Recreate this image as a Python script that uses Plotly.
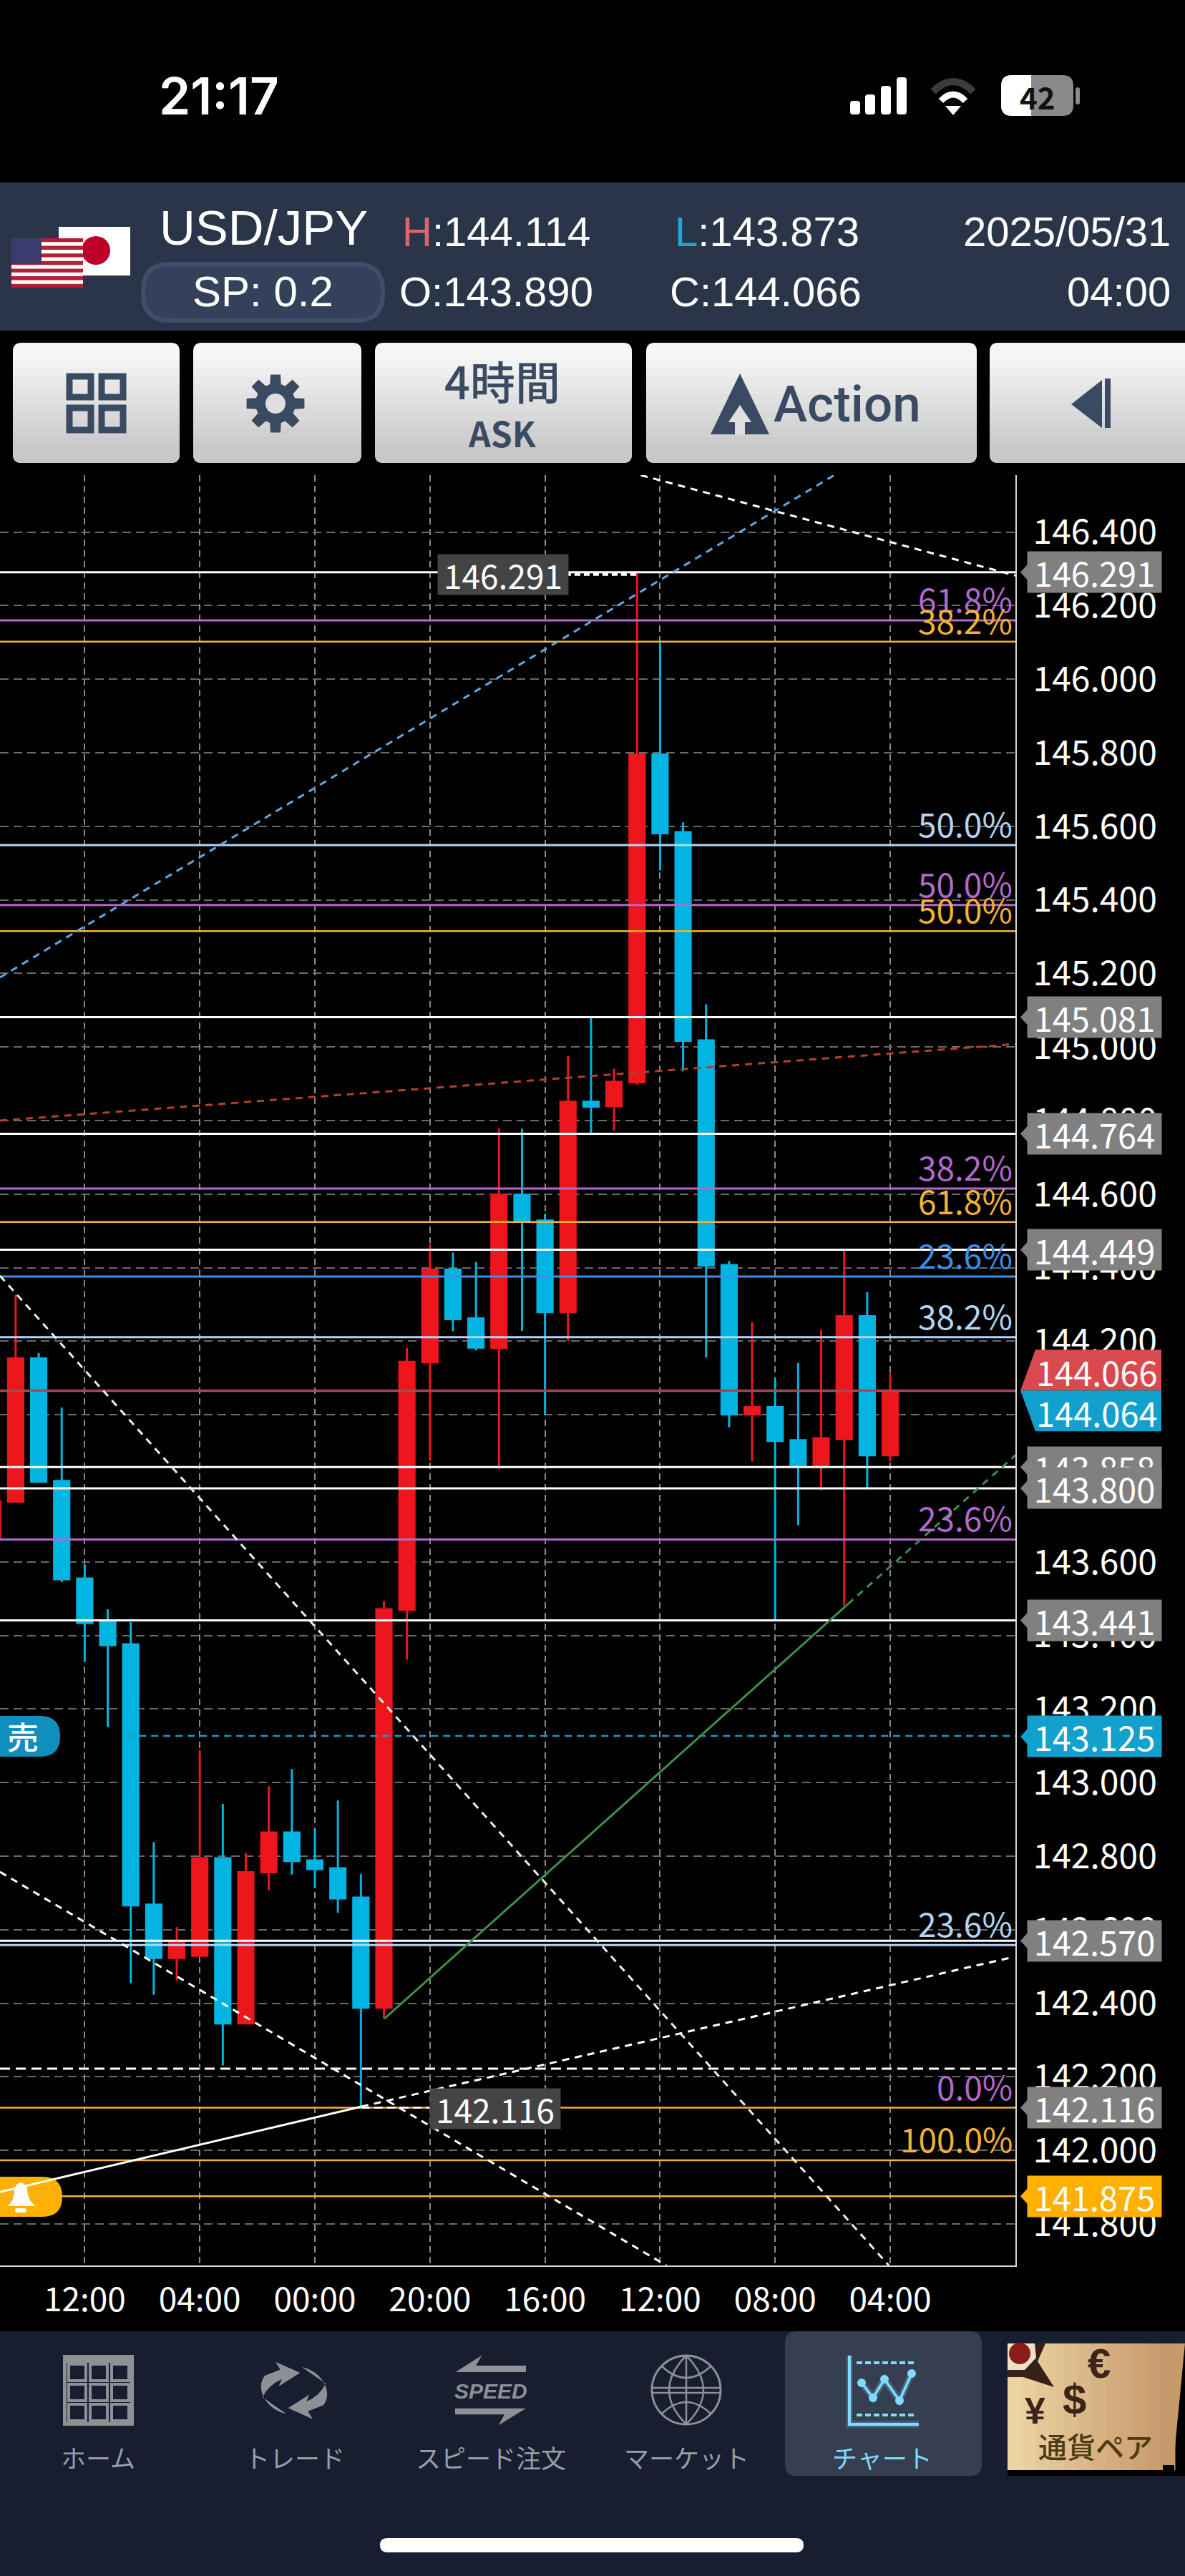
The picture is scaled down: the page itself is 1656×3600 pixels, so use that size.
import math
import plotly.graph_objects as go

W, H = 1656, 3600
FONT = "Noto Sans CJK JP"
ARIAL = "Liberation Sans"

# candles, oldest first (4h USD/JPY)
idx = list(range(-1, 39))
opens = [143.664, 143.764, 144.153, 143.820, 143.555, 143.436, 143.376, 142.668, 142.523, 142.529,
         142.794, 142.345, 142.756, 142.864, 142.788, 142.767, 142.687, 142.388, 143.470, 144.143,
         144.395, 144.262, 144.182, 144.598, 144.528, 144.279, 144.851, 144.839, 144.904, 145.795,
         145.584, 145.018, 144.407, 144.001, 144.021, 143.931, 143.860, 143.934, 144.268, 143.890]
highs = [143.800, 144.326, 144.168, 144.020, 143.593, 143.471, 143.436, 142.838, 142.607, 143.087,
         142.942, 142.808, 142.990, 143.037, 142.875, 142.951, 142.751, 143.493, 144.182, 144.463,
         144.441, 144.416, 144.779, 144.778, 144.546, 144.975, 145.079, 144.941, 146.291, 146.099,
         145.611, 145.116, 144.418, 144.252, 144.097, 144.141, 144.231, 144.446, 144.333, 144.114]
lows = [143.600, 143.762, 143.817, 143.545, 143.330, 143.151, 142.454, 142.423, 142.462, 142.527,
        142.231, 142.343, 142.707, 142.750, 142.713, 142.646, 142.116, 142.358, 143.334, 143.875,
        144.227, 144.175, 143.853, 144.228, 143.999, 144.201, 144.761, 144.773, 144.898, 145.480,
        144.934, 144.156, 143.966, 143.873, 143.441, 143.700, 143.795, 143.482, 143.797, 143.873]
closes = [143.765, 144.153, 143.818, 143.553, 143.434, 143.374, 142.666, 142.523, 142.568, 142.794,
          142.345, 142.756, 142.864, 142.787, 142.765, 142.685, 142.388, 143.471, 144.144, 144.395,
          144.260, 144.183, 144.598, 144.526, 144.279, 144.851, 144.838, 144.905, 145.795, 145.581,
          145.017, 144.406, 144.001, 144.021, 143.929, 143.860, 143.936, 144.268, 143.890, 144.066]

x_ticks = [3, 8, 13, 18, 23, 28, 33, 38]
x_labels = ["12:00", "04:00", "00:00", "20:00", "16:00", "12:00", "08:00", "04:00"]
y_ticks = [141.8, 142.0, 142.2, 142.4, 142.6, 142.8, 143.0, 143.2, 143.4, 143.6, 143.8, 144.0,
           144.2, 144.4, 144.6, 144.8, 145.0, 145.2, 145.4, 145.6, 145.8, 146.0, 146.2, 146.4]

# horizontal levels
white_front = [146.291, 145.081, 144.764, 144.449, 143.441, 142.570]
white_back = [143.858, 143.800]
purple_levels = [146.160, 145.386, 144.615, 143.661]
orange_levels = [146.102, 145.315, 144.524, 142.116, 141.973, 141.875]
pale_levels = [145.549, 144.211, 142.558]
blue_levels = [144.376]

# fibonacci captions: text, price, colour
PURPLE, ORANGE, PALE, BLUE = "#b368cc", "#f2b233", "#b3d4f2", "#3a8fe6"
fib_text = ["61.8%", "38.2%", "50.0%", "50.0%", "50.0%", "38.2%", "61.8%", "23.6%", "38.2%", "23.6%", "23.6%", "0.0%", "100.0%"]
fib_price = [146.160, 146.102, 145.549, 145.386, 145.315, 144.615, 144.524, 144.376, 144.211, 143.661, 142.558, 142.116, 141.973]
fib_color = [PURPLE, ORANGE, PALE, PURPLE, ORANGE, PURPLE, ORANGE, BLUE, PALE, PURPLE, PALE, PURPLE, ORANGE]

# price tags on the axis
tag_price = [146.291, 145.081, 144.764, 144.449, 143.858, 143.800, 143.441, 143.125, 142.570, 142.116, 141.875]
tag_color = ["#808080"] * 7 + ["#12a0cc", "#808080", "#808080", "#ffb000"]

# trend lines (candle index, price)
line_a = ([27.16, 43.44], [146.555, 146.282])
line_blue = ([-0.681, 35.57], [145.189, 146.555])
line_red = ([-0.681, 43.44], [144.800, 145.008])
line_d1 = ([-0.681, 37.94], [144.378, 141.687])
line_d2 = ([-0.681, 28.27], [142.757, 141.687])
line_bell = ([-0.681, 15.02], [141.887, 142.119])
line_bell2 = ([15.02, 43.23], [142.119, 142.524])
line_green = ([16.02, 36.16], [142.358, 143.485])
line_green2 = ([36.16, 43.44], [143.485, 143.890])

X0, X1 = -0.681, 43.44
Y_TOP, Y_BOT = 146.555, 141.687
PLOT_R, PLOT_T, PLOT_B = 1419, 664, 3166


def ypx(price):
    return PLOT_T + (Y_TOP - price) * (PLOT_B - PLOT_T) / (Y_TOP - Y_BOT)


def P(x, y):
    return f"{x / W:.6f},{1 - y / H:.6f}"


def poly(pts, close=True):
    s = "M" + " L".join(P(x, y) for x, y in pts)
    return s + (" Z" if close else "")


def rr(x0, y0, x1, y1, r):
    return (f"M{P(x0 + r, y0)} L{P(x1 - r, y0)} Q{P(x1, y0)} {P(x1, y0 + r)} L{P(x1, y1 - r)} "
            f"Q{P(x1, y1)} {P(x1 - r, y1)} L{P(x0 + r, y1)} Q{P(x0, y1)} {P(x0, y1 - r)} "
            f"L{P(x0, y0 + r)} Q{P(x0, y0)} {P(x0 + r, y0)} Z")


shapes = []
notes = []


def fill(path, color, layer="above"):
    shapes.append(dict(type="path", path=path, xref="paper", yref="paper", fillcolor=color,
                       line=dict(width=0), layer=layer))


def stroke(path, color, width, layer="above"):
    shapes.append(dict(type="path", path=path, xref="paper", yref="paper",
                       line=dict(color=color, width=width), layer=layer))


def box(x0, y0, x1, y1, color):
    fill(poly([(x0, y0), (x1, y0), (x1, y1), (x0, y1)]), color)


def circle(cx, cy, r, color, line=None, lw=0):
    shapes.append(dict(type="circle", xref="paper", yref="paper", x0=(cx - r) / W, x1=(cx + r) / W,
                       y0=1 - (cy + r) / H, y1=1 - (cy - r) / H, fillcolor=color,
                       line=dict(color=line, width=lw) if line else dict(width=0)))


def text(x, y, s, size, color="white", anchor="center", family=FONT, weight=None):
    notes.append(dict(x=x / W, y=1 - y / H, xref="paper", yref="paper", text=s, showarrow=False,
                      xanchor=anchor, yanchor="middle",
                      font=dict(size=size, color=color, family=family, weight=weight)))


def lerp(a, b, t):
    return "#" + "".join(f"{round(a[i] + (b[i] - a[i]) * t):02x}" for i in range(3))


# status bar
text(306, 134, "21:17", 71, family="Inter", weight=600)
for bx, top in zip([1188, 1209, 1231, 1253], [141, 132, 120, 108]):
    fill(rr(bx, top, bx + 14, 160, 4), "white")
stroke(f"M{P(1304, 128)} Q{P(1332, 100)} {P(1360, 128)}", "#3c3c3c", 10)
stroke(f"M{P(1315, 141)} Q{P(1332, 123)} {P(1349, 141)}", "white", 9)
fill(poly([(1321, 148), (1343, 148), (1332, 161)]), "white")
fill(rr(1399, 105, 1500, 162, 15), "#8a8a8a")
fill(rr(1399, 105, 1455, 162, 15), "white")
box(1441, 105, 1455, 162, "#8a8a8a")
box(1428, 105, 1441, 162, "white")
fill(rr(1503, 122, 1509, 146, 3), "#8a8a8a")
text(1450, 134, "42", 42, "#111111", weight=700)

# header band
box(0, 255, W, 462, "#2b3549")
box(82, 317, 182, 385, "white")
circle(134, 350, 20, "#bc0029")
box(16, 333, 116, 402, "white")
for k in range(7):
    sy = 333 + k * 69 / 6.5
    box(16, sy, 116, sy + 5.3, "#b22234")
box(16, 333, 58, 369, "#3c3b6e")
text(368, 318, "USD/JPY", 69, family=ARIAL)
fill(rr(197, 366, 538, 451, 40), "#3f4e69")
fill(rr(203, 372, 532, 445, 35), "#33415a")
text(367, 408, "SP: 0.2", 60, family=ARIAL)
text(560, 323, '<span style="color:#d9666b">H</span>:144.114', 58, anchor="left", family=ARIAL)
text(941, 323, '<span style="color:#1fa8d8">L</span>:143.873', 58, anchor="left", family=ARIAL)
text(556, 408, "O:143.890", 58, anchor="left", family=ARIAL)
text(934, 408, "C:144.066", 58, anchor="left", family=ARIAL)
text(1638, 323, "2025/05/31", 58, anchor="right", family=ARIAL)
text(1638, 408, "04:00", 58, anchor="right", family=ARIAL)

# tool buttons
ICON = "#3a4a63"
for bx0, bx1 in [(18, 251), (270, 505), (524, 883), (903, 1365), (1383, 1670)]:
    fill(rr(bx0, 479, bx1, 647, 12), "#f6f6f6")
    fill(rr(bx0, 563, bx1, 647, 12), "#c8c8c8")
    for k in range(12):
        t = k / 11
        sy = 491 + k * 12
        box(bx0, sy, bx1, sy + 12.5, lerp((246, 246, 246), (200, 200, 200), t))
for gx in (93, 138):
    for gy0, gy1 in ((522, 559), (566, 605)):
        stroke(poly([(gx + 4, gy0 + 4), (gx + 34, gy0 + 4), (gx + 34, gy1 - 4), (gx + 4, gy1 - 4)]), ICON, 9)
gear = []
for k in range(8):
    a = k * math.pi / 4
    for da, rad in ((-0.28, 28), (-0.17, 41), (0.17, 41), (0.28, 28)):
        gear.append((385 + rad * math.cos(a + da), 564 + rad * math.sin(a + da)))
fill(poly(gear), ICON)
circle(385, 564, 14, "#dedede")
text(702, 531, "4時間", 63, ICON, weight=500)
text(702, 604, "ASK", 48, ICON, weight=700)
fill(poly([(1034, 522), (1075, 607), (993, 607)]), ICON)
fill(poly([(1034, 566), (1050, 590), (1041, 590), (1041, 607), (1027, 607), (1027, 590), (1018, 590)]), "#e0e0e0")
text(1184, 564, "Action", 71, ICON, family="Roboto", weight=500)
fill(poly([(1540, 531), (1497, 565), (1540, 598)]), ICON)
box(1544, 529, 1552, 598, ICON)

# pills on the left edge of the chart
fill(rr(-40, 2398, 84, 2455, 28), "#0f8fbb", layer="below")
text(32, 2426, "売", 44, weight=500)
fill(rr(-40, 3042, 87, 3098, 28), "#ffb000", layer="below")
fill(f"M{P(10, 3083)} Q{P(21, 3075)} {P(20, 3058)} Q{P(29, 3042)} {P(38, 3058)} Q{P(38, 3075)} {P(50, 3083)} Z", "white")
fill(rr(21, 3086, 37, 3092, 3), "white")

# axis price tags
for price, color in zip(tag_price, tag_color):
    y = ypx(price)
    fill(poly([(1436, y - 11), (1426, y), (1436, y + 11)]), color)
    notes.append(dict(x=1529.5 / W, y=price, xref="paper", yref="y", text=f"{price:.3f}", showarrow=False,
                      width=187, height=57, bgcolor=color, borderpad=0, align="center",
                      xanchor="center", yanchor="middle", font=dict(size=47, color="white", family=FONT)))
ask_y = ypx(144.066)
fill(poly([(1426, ask_y), (1447, ask_y - 57), (1623, ask_y - 57), (1623, ask_y)]), "#d94a4f")
fill(poly([(1426, ask_y), (1623, ask_y), (1623, ask_y + 57), (1447, ask_y + 57)]), "#12a0cc")
text(1533, ask_y - 27, "144.066", 47)
text(1533, ask_y + 30, "144.064", 47)

# fibonacci captions
for s, price, color in zip(fib_text, fib_price, fib_color):
    notes.append(dict(x=1417 / W, y=price, xref="paper", yref="y", text=s, showarrow=False, xanchor="right",
                      yanchor="middle", yshift=31, font=dict(size=46, color=color, family=FONT)))

# high / low labels inside the chart
for label, cx, y in (("146.291", 703, 803), ("142.116", 692, 2947)):
    notes.append(dict(x=cx / W, y=1 - y / H, xref="paper", yref="paper", text=label, showarrow=False,
                      width=180, height=54, bgcolor="#444444", xanchor="center", yanchor="middle",
                      font=dict(size=46, color="white", family=FONT)))

# bottom navigation
box(0, 3258, W, H, "#161e30")
fill(rr(1097, 3258, 1372, 3460, 16), "#363f50")
GREY = "#8f9096"
LIGHT = "#7fdcff"
for cx, s, col in [(137, "ホーム", "#9a9da6"), (412, "トレード", "#9a9da6"), (686, "スピード注文", "#9a9da6"),
                   (959, "マーケット", "#9a9da6"), (1233, "チャート", LIGHT)]:
    text(cx, 3433, s, 35, col)

box(88, 3291, 187, 3390, GREY)
box(93, 3302, 182, 3385, "#161e30")
for wx in (96, 126, 156):
    for wy0, wy1 in ((3304, 3327), (3332, 3355), (3360, 3383)):
        stroke(poly([(wx, wy0), (wx + 24, wy0), (wx + 24, wy1), (wx, wy1)]), GREY, 4)

# trade icon: one arrow and the same arrow turned half way
arrow = [(240, 310), (150, 290), (110, 200), (150, 150), (215, 125), (195, 92), (298, 138), (208, 195), (222, 165),
         (170, 185), (140, 240)]
for flip in (False, True):
    pts = [((546 - u if flip else u), (424 - v if flip else v)) for u, v in arrow]
    pts = [(320 + u / 3, 3270 + v / 3) for u, v in pts]
    fill(f"M{P(*pts[0])} C{P(*pts[1])} {P(*pts[2])} {P(*pts[3])} L{P(*pts[4])} L{P(*pts[5])} L{P(*pts[6])} "
         f"L{P(*pts[7])} L{P(*pts[8])} Q{P(*pts[9])} {P(*pts[10])} Q{P(*pts[10])} {P(*pts[0])} Z", GREY)

# speed icon
fill(poly([(320 + u / 3, 3270 + v / 3) for u, v in [(950, 135), (1060, 65), (1035, 108), (1245, 108), (1245, 135)]]), GREY)
fill(poly([(320 + u / 3, 3270 + v / 3) for u, v in [(948, 287), (1245, 287), (1130, 358), (1155, 313), (948, 313)]]), GREY)
text(686, 3341, "<b><i>SPEED</i></b>", 30, GREY, family=ARIAL)

# globe
circle(959, 3340, 48, "rgba(0,0,0,0)", GREY, 3)
for dx in (-16, 16):
    stroke(f"M{P(959, 3292)} Q{P(959 + 3 * dx, 3340)} {P(959, 3388)}", GREY, 2.5)
stroke(poly([(959, 3292), (959, 3388)], close=False), GREY, 2.5)
stroke(poly([(911, 3337), (1007, 3337)], close=False), GREY, 2.5)
stroke(poly([(911, 3344), (1007, 3344)], close=False), GREY, 2.5)
stroke(f"M{P(924, 3306)} Q{P(959, 3340)} {P(994, 3306)}", GREY, 2.5)
stroke(f"M{P(924, 3374)} Q{P(959, 3340)} {P(994, 3374)}", GREY, 2.5)

# chart icon
wave = [(1204, 3330), (1220, 3351), (1236, 3325), (1257, 3355), (1274, 3317)]
stroke(poly(wave, close=False), "rgba(127,220,255,0.25)", 9)
stroke(poly(wave, close=False), LIGHT, 3.5)
stroke(poly([(1187, 3292), (1187, 3388), (1284, 3388)], close=False), "rgba(127,220,255,0.25)", 9)
stroke(poly([(1187, 3292), (1187, 3388), (1284, 3388)], close=False), LIGHT, 4)
for wx, wy in wave:
    circle(wx, wy, 6, LIGHT)
for dy in (3302, 3375):
    for k in range(7):
        box(1197 + k * 12, dy - 2, 1205 + k * 12, dy + 2, LIGHT)

# currency pair banner
box(1408, 3275, W, 3460, "#000000")
for k in range(12):
    sx = 1408 + k * 19.5
    box(sx, 3275, sx + 20, 3452, lerp((236, 211, 163), (198, 152, 106), k / 11))
fill(poly([(1640, 3275), (1656, 3275), (1640, 3440)]), "#c89a6a")
box(1625, 3445, 1641, 3452, "#000000")
fill(poly([(1408, 3322), (1430, 3322), (1473, 3336), (1450, 3300), (1461, 3275), (1408, 3275)]), "#38201a")
fill(poly([(1408, 3275), (1446, 3275), (1448, 3295), (1432, 3312), (1408, 3312)]), "#efe2c8")
circle(1425, 3289, 15, "#8a1c1c")
text(1536, 3302, "€", 58, "#3d2418", family=ARIAL, weight=700)
text(1501, 3353, "$", 60, "#3d2418", family=ARIAL, weight=700)
text(1446, 3369, "¥", 52, "#3d2418", family=ARIAL, weight=700)
text(1531, 3418, "通貨ペア", 40, "#4e3a12", weight=500)
fill(rr(531, 3547, 1123, 3567, 10), "white")

fig = go.Figure()


def levels(prices, color, width):
    for p in prices:
        fig.add_trace(go.Scatter(x=[X0, X1], y=[p, p], mode="lines", line=dict(color=color, width=width),
                                 hoverinfo="skip", showlegend=False))


def trend(pts, color, width=3, dash="10px,8px"):
    fig.add_trace(go.Scatter(x=pts[0], y=pts[1], mode="lines", line=dict(color=color, width=width, dash=dash),
                             hoverinfo="skip", showlegend=False))


levels(white_back, "white", 3)

fig.add_trace(go.Candlestick(
    x=idx, open=opens, high=highs, low=lows, close=closes, whiskerwidth=0, showlegend=False,
    increasing=dict(line=dict(color="#ec161c", width=3), fillcolor="#ec161c"),
    decreasing=dict(line=dict(color="#02b4e2", width=3), fillcolor="#02b4e2"),
))

levels(purple_levels, PURPLE, 3)
levels(orange_levels, ORANGE, 2.5)
levels(pale_levels, PALE, 3)
levels(blue_levels, BLUE, 3)
levels(white_front, "white", 3)
levels([144.064], "#3f8fc0", 2)
levels([144.066], "#a8434a", 3)
fig.add_trace(go.Scatter(x=[4.83, X1], y=[143.127, 143.127], mode="lines", hoverinfo="skip", showlegend=False,
                         line=dict(color="#1b9ac8", width=2.5, dash="10px,7px")))
fig.add_trace(go.Scatter(x=[X0, X1], y=[142.222, 142.222], mode="lines", hoverinfo="skip", showlegend=False,
                         line=dict(color="white", width=3, dash="14px,8px")))

trend(line_a, "white")
trend(line_blue, "#5ea8e6")
trend(line_red, "#b5402a")
trend(line_d1, "#e6f2e6")
trend(line_d2, "white")
trend(line_bell, "white", dash="solid")
trend(line_bell2, "white")
trend(line_green, "#3f8f4a", dash="solid")
trend(line_green2, "#3f8f4a")
trend(([23.88, 27], [146.285, 146.285]), "white", 4, "8px,5px")
trend(([15.02, 17.98], [142.116, 142.116]), "white", 2.5, "12px,6px")

fig.update_layout(
    width=W, height=H, margin=dict(l=0, r=0, t=0, b=0), autosize=False,
    paper_bgcolor="black", plot_bgcolor="black", boxgap=0.06,
    shapes=shapes, annotations=notes,
    xaxis=dict(domain=[0, PLOT_R / W], range=[X0, X1], tickvals=x_ticks, ticktext=x_labels,
               showgrid=True, gridcolor="#8a8a8a", griddash="9px,6px", gridwidth=1.5, zeroline=False,
               rangeslider=dict(visible=False), showline=True, linecolor="#d8d8d8", linewidth=2,
               ticks="outside", ticklen=7, tickcolor="rgba(0,0,0,0)",
               tickfont=dict(size=46, color="white", family=FONT)),
    yaxis=dict(domain=[1 - PLOT_B / H, 1 - PLOT_T / H], range=[Y_BOT, Y_TOP], side="right", tickvals=y_ticks,
               tickformat=".3f", showgrid=True, gridcolor="#6a6a6a", griddash="12px,7px", gridwidth=2,
               zeroline=False, showline=True, linecolor="#d8d8d8", linewidth=2,
               ticks="outside", ticklen=13, tickcolor="rgba(0,0,0,0)",
               tickfont=dict(size=48, color="white", family=FONT)),
)

fig.write_html("out.html", config={"displayModeBar": False},
               post_script="document.body.style.margin='0';document.body.style.background='black';")
